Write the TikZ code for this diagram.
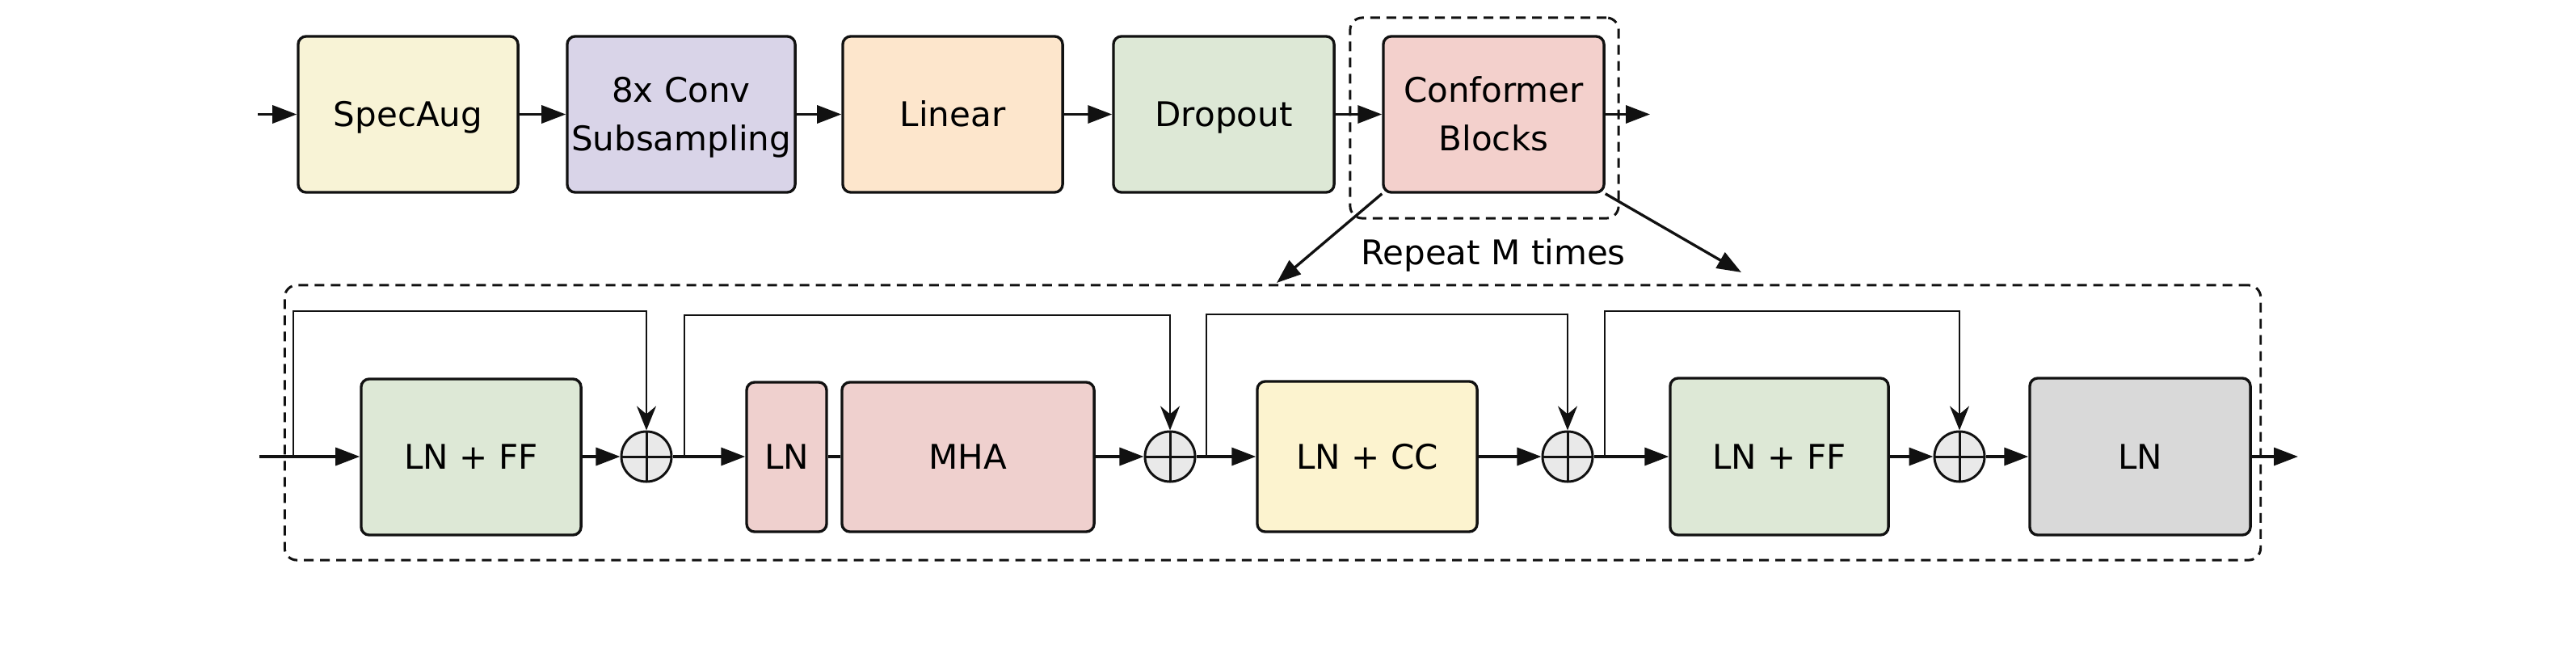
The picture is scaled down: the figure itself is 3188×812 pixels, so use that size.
\documentclass[tikz,border=0pt]{standalone}
\usepackage{fontspec}
\setmainfont{DejaVu Sans}
\usetikzlibrary{arrows.meta}
\newcommand\blkfont{\fontsize{11.95}{17.07}\selectfont}
\definecolor{cspec}{HTML}{F8F3D6}
\definecolor{cconv}{HTML}{D9D4E8}
\definecolor{clin}{HTML}{FDE6CC}
\definecolor{cgreen}{HTML}{DDE8D6}
\definecolor{cconf}{HTML}{F3D0CC}
\definecolor{cred}{HTML}{EFD0CE}
\definecolor{ccc}{HTML}{FCF3CF}
\definecolor{cgray}{HTML}{D9D9D9}
\definecolor{cplus}{HTML}{E9E9E9}
\definecolor{cline}{HTML}{111111}
\tikzset{
  blk/.style={draw=cline, line width=0.95pt, rounded corners=0.1cm, inner sep=0pt,
    align=center, font=\blkfont, text height=0.3cm, text depth=0pt},
  twoline/.style={text height=0.9cm},
  plusnode/.style={circle, draw=cline, fill=cplus, line width=0.85pt, minimum size=0.62cm, inner sep=0pt,
    path picture={\draw[line width=0.85pt, cline] (path picture bounding box.north) -- (path picture bounding box.south)
      (path picture bounding box.west) -- (path picture bounding box.east);}},
  arr/.style={draw=cline, line width=0.95pt, -{Triangle[length=0.3cm,width=0.22cm]}},
  plainline/.style={draw=cline, line width=0.95pt},
  skiparr/.style={draw=cline, line width=0.8pt, -{Stealth[length=0.3cm,width=0.24cm,inset=0.1cm]}},
  dashbox/.style={draw=cline, line width=0.85pt, dash pattern=on 0.12cm off 0.08cm, rounded corners=0.15cm},
  lbl/.style={font=\blkfont, inner sep=0pt}
}
\begin{document}
\begin{tikzpicture}[x=0.01cm, y=-0.01cm]
\useasboundingbox (0,0) rectangle (3188,812);
% top row
\node[blk, fill=cspec, minimum width=2.72cm, minimum height=1.93cm] (spec) at (505,141.5) {SpecAug};
\node[blk, twoline, fill=cconv, minimum width=2.82cm, minimum height=1.93cm] (conv) at (843,141.5) {8x Conv\\Subsampling};
\node[blk, fill=clin, minimum width=2.72cm, minimum height=1.93cm] (lin) at (1179,141.5) {Linear};
\node[blk, fill=cgreen, minimum width=2.73cm, minimum height=1.93cm] (drop) at (1514.5,141.5) {Dropout};
\node[blk, twoline, fill=cconf, minimum width=2.73cm, minimum height=1.93cm] (conf) at (1848.5,141.5) {Conformer\\Blocks};
\node[dashbox, minimum width=3.32cm, minimum height=2.48cm] (rep) at (1837,146) {};
\coordinate (in1) at (319,141.5);
\coordinate (out1) at (2042,141.5);
\draw[arr] (in1) -- (spec);
\draw[arr] (spec) -- (conv);
\draw[arr] (conv) -- (lin);
\draw[arr] (lin) -- (drop);
\draw[arr] (drop) -- (conf);
\draw[arr] (conf) -- (out1);
\node[lbl, anchor=base] (reptxt) at (1848,327) {Repeat M times};
% bottom dashed box
\node[dashbox, minimum width=24.44cm, minimum height=3.40cm] (blkbox) at (1575,523) {};
\coordinate (d1) at (1580,350);
\coordinate (d2) at (2155,337);
\draw[arr] (conf.south west) -- (d1);
\draw[arr] (conf.south east) -- (d2);
% bottom row
\node[blk, fill=cgreen, minimum width=2.72cm, minimum height=1.93cm] (ff1) at (583,565.5) {LN + FF};
\node[plusnode] (o1) at (800,565) {};
\node[blk, fill=cred, minimum width=0.99cm, minimum height=1.85cm] (ln1) at (973.5,565.5) {LN};
\node[blk, fill=cred, minimum width=3.12cm, minimum height=1.85cm] (mha) at (1198,565.5) {MHA};
\node[plusnode] (o2) at (1448,565) {};
\node[blk, fill=ccc, minimum width=2.72cm, minimum height=1.86cm] (cc) at (1692,565) {LN + CC};
\node[plusnode] (o3) at (1940,565) {};
\node[blk, fill=cgreen, minimum width=2.70cm, minimum height=1.94cm] (ff2) at (2202,565) {LN + FF};
\node[plusnode] (o4) at (2425,565) {};
\node[blk, fill=cgray, minimum width=2.73cm, minimum height=1.94cm] (lnf) at (2648.5,565) {LN};
\coordinate (in2) at (321,565);
\coordinate (out2) at (2844,565);
\draw[arr] (in2) -- (ff1.west |- in2);
\draw[arr] (ff1.east |- o1) -- (o1);
\draw[arr] (o1) -- (ln1.west |- o1);
\draw[plainline] (ln1.east |- o1) -- (mha.west |- o1);
\draw[arr] (mha.east |- o2) -- (o2);
\draw[arr] (o2) -- (cc);
\draw[arr] (cc) -- (o3);
\draw[arr] (o3) -- (ff2);
\draw[arr] (ff2) -- (o4);
\draw[arr] (o4) -- (lnf);
\draw[arr] (lnf) -- (out2);
% skip connections
\coordinate (s1) at (363,565);
\coordinate (t1) at (800,385);
\coordinate (s2) at (847,565);
\coordinate (t2) at (1448,390);
\coordinate (s3) at (1493,565);
\coordinate (t3) at (1940,389);
\coordinate (s4) at (1986,565);
\coordinate (t4) at (2425,385);
\draw[skiparr] (s1) |- (t1) -- (o1);
\draw[skiparr] (s2) |- (t2) -- (o2);
\draw[skiparr] (s3) |- (t3) -- (o3);
\draw[skiparr] (s4) |- (t4) -- (o4);
\end{tikzpicture}
\end{document}
